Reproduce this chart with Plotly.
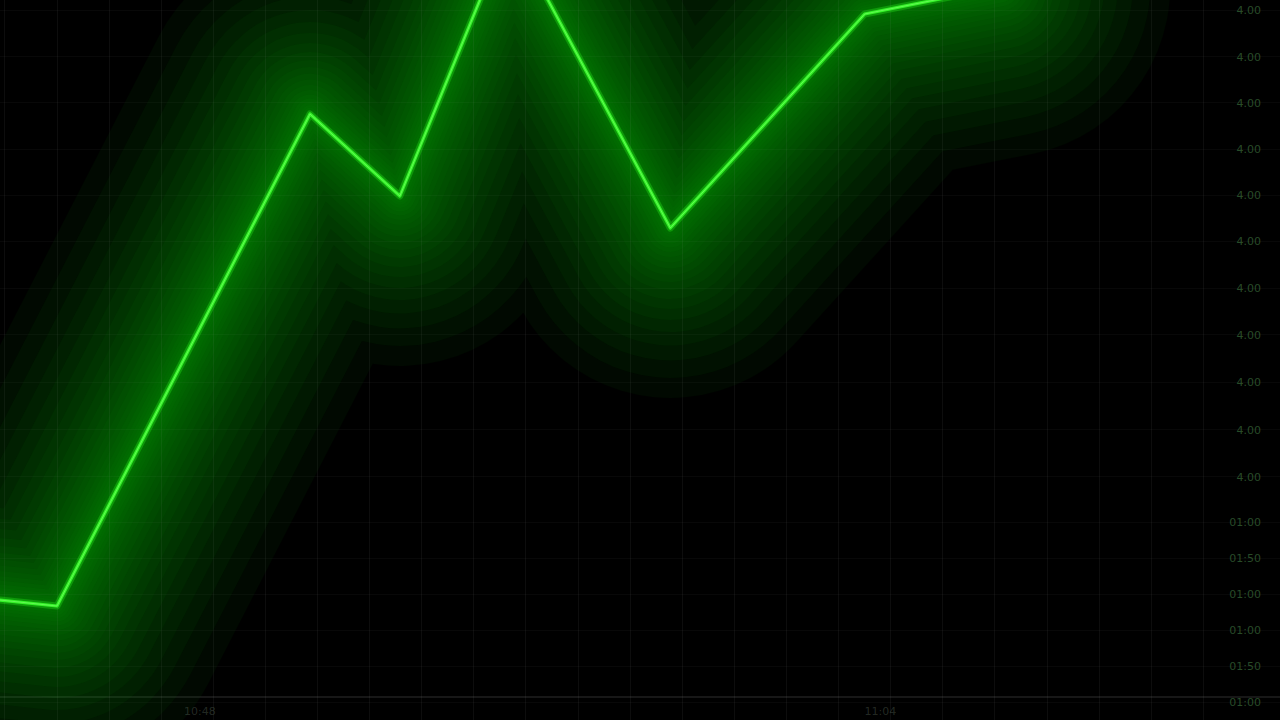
import plotly.graph_objects as go

# data (x in time steps, y in price units)
x_vals = [-1.094, 0.0, 4.855, 6.58, 8.68, 11.77, 15.5, 18.1]
y_vals = [1.347, 1.264, 8.097, 6.958, 10.68, 6.514, 9.486, 9.861]

y_tick_vals = [9.54, 8.89, 8.25, 7.61, 6.97, 6.33, 5.68, 5.03, 4.375, 3.71, 3.06,
               2.43, 1.93, 1.43, 0.93, 0.43, -0.07]
y_tick_text = ["4.00", "4.00", "4.00", "4.00", "4.00", "4.00", "4.00", "4.00", "4.00", "4.00", "4.00",
               "01:00", "01:50", "01:00", "01:00", "01:50", "01:00"]

x_label_vals = [2.74, 15.8]
x_label_text = ["10:48", "11:04"]

fig = go.Figure()

# soft glow: many stacked translucent strokes
glow_widths = [340, 300, 265, 235, 208, 184, 162, 142, 124, 108, 94, 81, 69, 58, 48, 39, 31, 24, 18, 13, 9]
for w in glow_widths:
    fig.add_trace(go.Scatter(
        x=x_vals, y=y_vals, mode="lines",
        line=dict(color="rgba(15,175,15,0.05)", width=w),
        hoverinfo="skip", showlegend=False,
    ))
fig.add_trace(go.Scatter(
    x=x_vals, y=y_vals, mode="lines",
    line=dict(color="rgba(40,230,30,0.35)", width=7),
    hoverinfo="skip", showlegend=False,
))
fig.add_trace(go.Scatter(
    x=x_vals, y=y_vals, mode="lines",
    line=dict(color="#33f227", width=3.2),
    showlegend=False,
))
fig.add_trace(go.Scatter(
    x=x_vals, y=y_vals, mode="lines",
    line=dict(color="rgba(150,255,130,0.5)", width=1),
    hoverinfo="skip", showlegend=False,
))
# invisible trace for label axis
fig.add_trace(go.Scatter(
    x=x_label_vals, y=[0, 0], mode="markers", xaxis="x2",
    marker=dict(opacity=0), hoverinfo="skip", showlegend=False,
))

fig.update_layout(
    width=1280, height=720,
    margin=dict(l=0, r=0, t=0, b=0),
    paper_bgcolor="#000000",
    plot_bgcolor="#000000",
    xaxis=dict(
        range=[-1.094, 23.47], dtick=1, tick0=0,
        showgrid=True, gridcolor="rgba(255,255,255,0.05)", gridwidth=1,
        showticklabels=False, zeroline=False, showline=False,
    ),
    xaxis2=dict(
        range=[-1.094, 23.47], overlaying="x", side="bottom",
        tickvals=x_label_vals, ticktext=x_label_text,
        ticklabelposition="inside", ticks="",
        tickfont=dict(family="DejaVu Sans", size=11, color="rgba(120,140,120,0.3)"),
        showgrid=False, zeroline=False, showline=False,
    ),
    yaxis=dict(
        range=[-0.319, 9.68], side="right",
        tickvals=y_tick_vals, ticktext=y_tick_text,
        ticklabelposition="inside", ticks="", ticklabelstandoff=16,
        tickfont=dict(family="DejaVu Sans", size=11, color="rgba(80,150,80,0.5)"),
        showgrid=True, gridcolor="rgba(255,255,255,0.03)", gridwidth=1,
        zeroline=True, zerolinecolor="rgba(255,255,255,0.09)", zerolinewidth=2,
        showline=False,
    ),
)

post = (
    "document.body.style.margin='0px';document.body.style.overflow='hidden';"
    "var s=document.createElement('style');"
    "s.textContent='path.js-line{stroke-linejoin:round !important;stroke-linecap:round !important;}';"
    "document.head.appendChild(s);"
)
fig.write_html("out.html", config={"displayModeBar": False}, post_script=post)
